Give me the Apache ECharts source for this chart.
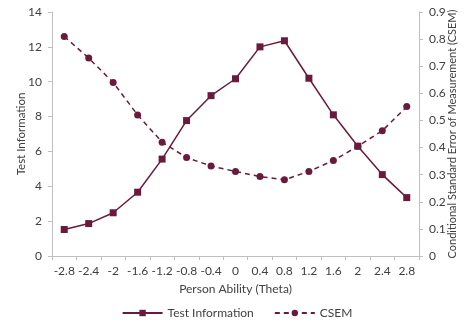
<!DOCTYPE html>
<html><head><meta charset="utf-8">
<script src="https://cdn.jsdelivr.net/npm/echarts@6/dist/echarts.min.js"></script>
<style>html,body{margin:0;padding:0;background:#fff}#c{width:474px;height:333px}</style>
</head><body><div id="c"></div>
<script>
const categories = ['-2.8','-2.4','-2','-1.6','-1.2','-0.8','-0.4','0','0.4','0.8','1.2','1.6','2','2.4','2.8'];
const testInformation = [1.52, 1.86, 2.48, 3.66, 5.56, 7.77, 9.2, 10.17, 12.0, 12.35, 10.2, 8.1, 6.3, 4.67, 3.35];
const csem = [0.81, 0.73, 0.64, 0.52, 0.42, 0.363, 0.332, 0.312, 0.293, 0.281, 0.312, 0.352, 0.405, 0.462, 0.551];
const color = '#6A1B3D';
const txt = '#404040';
const font = 'Lato';
const chart = echarts.init(document.getElementById('c'));
chart.setOption({
  animation: false,
  textStyle: {fontFamily: font},
  grid: {left: 52, right: 55, top: 12, bottom: 77, outerBoundsMode: 'none', containLabel: false},
  legend: {
    bottom: 9, left: 'center', itemGap: 20, itemWidth: 40, itemHeight: 8,
    textStyle: {color: txt, fontSize: 12, fontFamily: font},
    data: ['Test Information', 'CSEM']
  },
  xAxis: {
    type: 'category', data: categories, boundaryGap: true,
    name: 'Person Ability (Theta)', nameLocation: 'middle', nameGap: 27, nameMoveOverlap: false,
    nameTextStyle: {color: txt, fontSize: 12},
    axisLine: {lineStyle: {color: '#bfbfbf'}},
    axisTick: {show: true, alignWithLabel: false, length: 4, lineStyle: {color: '#bfbfbf'}},
    axisLabel: {color: txt, fontSize: 12, margin: 9, interval: 0}
  },
  yAxis: [{
    type: 'value', min: 0, max: 14, interval: 2,
    name: 'Test Information', nameLocation: 'middle', nameGap: 25, nameMoveOverlap: false,
    nameTextStyle: {color: txt, fontSize: 11.5},
    axisLine: {show: true, lineStyle: {color: '#bfbfbf'}},
    axisTick: {show: true, length: 4, lineStyle: {color: '#bfbfbf'}},
    axisLabel: {color: txt, fontSize: 12, margin: 10},
    splitLine: {show: false}
  }, {
    type: 'value', min: 0, max: 0.9, interval: 0.1, position: 'right',
    name: 'Conditional Standard Error of Measurement (CSEM)', nameLocation: 'middle', nameGap: 28, nameMoveOverlap: false,
    nameTextStyle: {color: txt, fontSize: 11},
    axisLine: {show: true, lineStyle: {color: '#bfbfbf'}},
    axisTick: {show: true, length: 4, lineStyle: {color: '#bfbfbf'}},
    axisLabel: {color: txt, fontSize: 12, margin: 10, formatter: v => (Math.round(v*10)/10).toString()},
    splitLine: {show: false}
  }],
  series: [{
    name: 'Test Information', type: 'line', yAxisIndex: 0, data: testInformation,
    symbol: 'rect', symbolSize: 7,
    lineStyle: {color: color, width: 1.5}, itemStyle: {color: color}
  }, {
    name: 'CSEM', type: 'line', yAxisIndex: 1, data: csem,
    symbol: 'circle', symbolSize: 7,
    lineStyle: {color: color, width: 1.5, type: [5, 4]}, itemStyle: {color: color}
  }]
});
</script></body></html>
